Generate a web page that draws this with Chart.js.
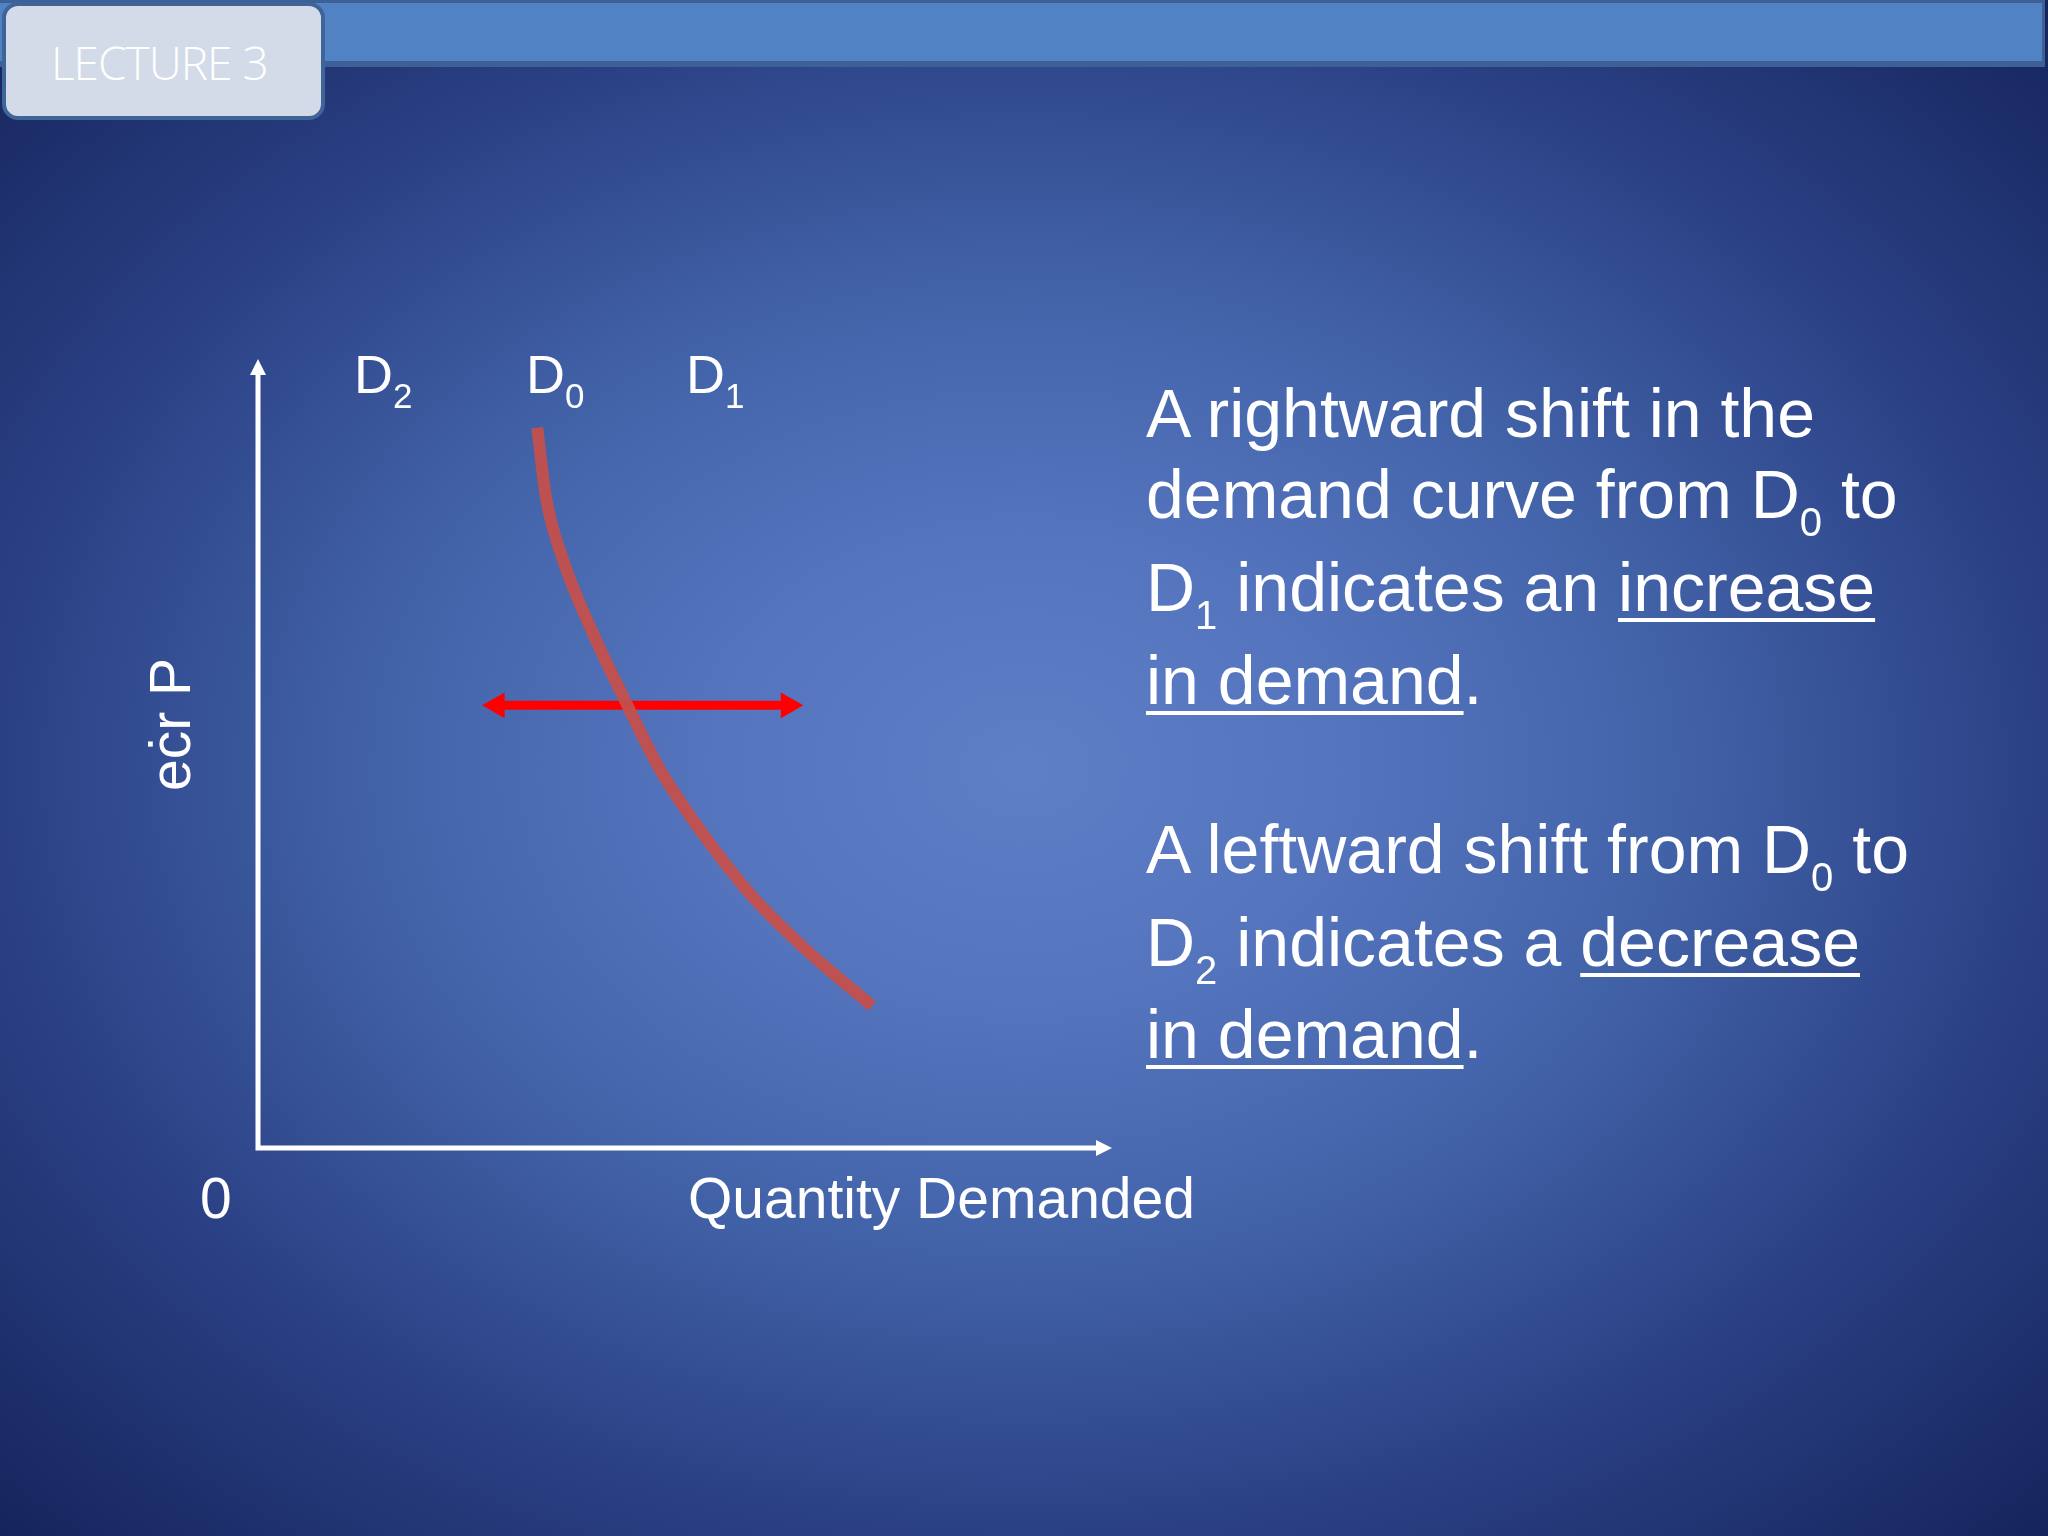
<!DOCTYPE html>
<html>
<head>
<meta charset="utf-8">
<title>Demand curve shift</title>
<script src="https://cdn.jsdelivr.net/npm/chart.js@4.4.1/dist/chart.umd.min.js"></script>
<style>
    html, body {
        margin: 0;
        padding: 0;
    }
    #slide {
        position: relative;
        width: 2048px;
        height: 1536px;
        overflow: hidden;
        background: radial-gradient(ellipse farthest-corner at 50% 50%, #5d7fc6 0%, #5475be 22%, #4262a8 45%, #2b4185 70%, #15245c 100%);
        font-family: "Liberation Sans", Arial, sans-serif;
        color: #ffffff;
    }
    #topBar {
        position: absolute;
        left: 0;
        top: 0;
        width: 2042px;
        height: 58px;
        background: #5082c4;
        border-top: 3px solid #3d6196;
        border-bottom: 6px solid #3d6196;
        border-right: 3px solid #3d6196;
    }
    #lectureBox {
        position: absolute;
        left: 2px;
        top: 2px;
        width: 315px;
        height: 110px;
        background: #d3dbe9;
        border: 4px solid #3f6598;
        border-radius: 16px;
    }
    #lectureText {
        position: absolute;
        left: 51px;
        top: 39px;
        font-family: "Open Sans", sans-serif;
        font-weight: 300;
        font-size: 46px;
        line-height: 1;
        letter-spacing: -1px;
        color: #ffffff;
        white-space: nowrap;
    }
    #chartCanvas {
        position: absolute;
        left: 0;
        top: 0;
    }
    .lbl {
        position: absolute;
        line-height: 1;
        white-space: nowrap;
    }
    .axisTxt {
        font-size: 57px;
    }
    .curveTxt {
        font-size: 54px;
    }
    .curveTxt span {
        font-size: 35px;
        vertical-align: -15px;
    }
    .body {
        font-size: 68px;
    }
    .body span.sub {
        font-size: 40px;
        vertical-align: -18px;
    }
    .body u {
        text-decoration-thickness: 4px;
        text-underline-offset: 7px;
    }
    #priceLabel {
        transform-origin: 0 0;
        transform: rotate(-90deg);
    }
</style>
</head>
<body>
<div id="slide">
    <div id="topBar"></div>
    <div id="lectureBox"></div>
    <div id="lectureText" class="lbl">LECTURE 3</div>

    <canvas id="chartCanvas" width="2048" height="1536"></canvas>

    <div class="lbl curveTxt" style="left:354px; top:347px;">D<span>2</span></div>
    <div class="lbl curveTxt" style="left:526px; top:347px;">D<span>0</span></div>
    <div class="lbl curveTxt" style="left:686px; top:347px;">D<span>1</span></div>

    <div id="priceLabel" class="lbl axisTxt" style="left:142px; top:791px;">eċr P</div>
    <div class="lbl axisTxt" style="left:200px; top:1170px;">0</div>
    <div class="lbl axisTxt" style="left:688px; top:1170px;">Quantity Demanded</div>

    <div class="lbl body" style="left:1146px; top:379px;">A rightward shift in the</div>
    <div class="lbl body" style="left:1146px; top:460px;">demand curve from D<span class="sub">0</span> to</div>
    <div class="lbl body" style="left:1146px; top:553px;">D<span class="sub">1</span> indicates an <u>increase</u></div>
    <div class="lbl body" style="left:1146px; top:646px;"><u>in demand</u>.</div>

    <div class="lbl body" style="left:1146px; top:815px;">A leftward shift from D<span class="sub">0</span> to</div>
    <div class="lbl body" style="left:1146px; top:908px;">D<span class="sub">2</span> indicates a <u>decrease</u></div>
    <div class="lbl body" style="left:1146px; top:1000px;"><u>in demand</u>.</div>
</div>

<script>
// D0 demand curve (quantity, price on a 0-100 scale)
var demandQty = [32.7, 33.7, 35.8, 38.9, 42.9, 47.1, 52.3, 57.7, 63.8, 71.9];
var demandPrice = [91.3, 82.6, 74.3, 66.0, 56.9, 47.9, 39.5, 32.1, 25.5, 18.0];

// double headed shift arrow
var shiftQty = [28.0, 62.1];
var shiftPrice = [56.1, 56.1];

// axis ranges
var qtyRange = [0, 100];
var priceRange = [0, 100];

function toPoints(xs, ys) {
    return xs.map(function (x, i) {
        return {x: x, y: ys[i]};
    });
}

// white axes with arrow heads, drawn from the scales
var axisArrows = {
    id: 'axisArrows',
    beforeDatasetsDraw: function (chart) {
        var ctx = chart.ctx;
        var xs = chart.scales.x;
        var ys = chart.scales.y;
        var x0 = xs.getPixelForValue(qtyRange[0]);
        var x1 = xs.getPixelForValue(qtyRange[1]);
        var y0 = ys.getPixelForValue(priceRange[0]);
        var y1 = ys.getPixelForValue(priceRange[1]);
        var head = 16;

        ctx.save();
        ctx.strokeStyle = '#ffffff';
        ctx.fillStyle = '#ffffff';
        ctx.lineWidth = 5;
        ctx.lineCap = 'square';

        ctx.beginPath();
        ctx.moveTo(x0, y0);
        ctx.lineTo(x0, y1 + head - 2);
        ctx.moveTo(x0, y0);
        ctx.lineTo(x1 - head + 2, y0);
        ctx.stroke();

        ctx.beginPath();
        ctx.moveTo(x0, y1);
        ctx.lineTo(x0 - 8, y1 + head);
        ctx.lineTo(x0 + 8, y1 + head);
        ctx.closePath();
        ctx.fill();

        ctx.beginPath();
        ctx.moveTo(x1, y0);
        ctx.lineTo(x1 - head, y0 - 8);
        ctx.lineTo(x1 - head, y0 + 8);
        ctx.closePath();
        ctx.fill();
        ctx.restore();
    }
};

var ctx = document.getElementById('chartCanvas').getContext('2d');
new Chart(ctx, {
    type: 'line',
    data: {
        datasets: [{
            label: 'D0',
            data: toPoints(demandQty, demandPrice),
            borderColor: 'rgba(196, 80, 76, 0.95)',
            borderWidth: 12,
            pointRadius: 0,
            cubicInterpolationMode: 'monotone',
            fill: false
        }, {
            label: 'shift',
            data: toPoints(shiftQty, shiftPrice),
            borderColor: '#ff0000',
            borderWidth: 9,
            pointStyle: 'triangle',
            pointRadius: 15,
            pointRotation: [270, 90],
            pointBackgroundColor: '#ff0000',
            pointBorderWidth: 0,
            fill: false
        }]
    },
    options: {
        responsive: false,
        animation: false,
        devicePixelRatio: 1,
        layout: {
            padding: {left: 258, right: 936, top: 359, bottom: 388}
        },
        scales: {
            x: {type: 'linear', min: qtyRange[0], max: qtyRange[1], display: false},
            y: {type: 'linear', min: priceRange[0], max: priceRange[1], display: false}
        },
        plugins: {
            legend: {display: false},
            tooltip: {enabled: false}
        }
    },
    plugins: [axisArrows]
});
</script>
</body>
</html>
